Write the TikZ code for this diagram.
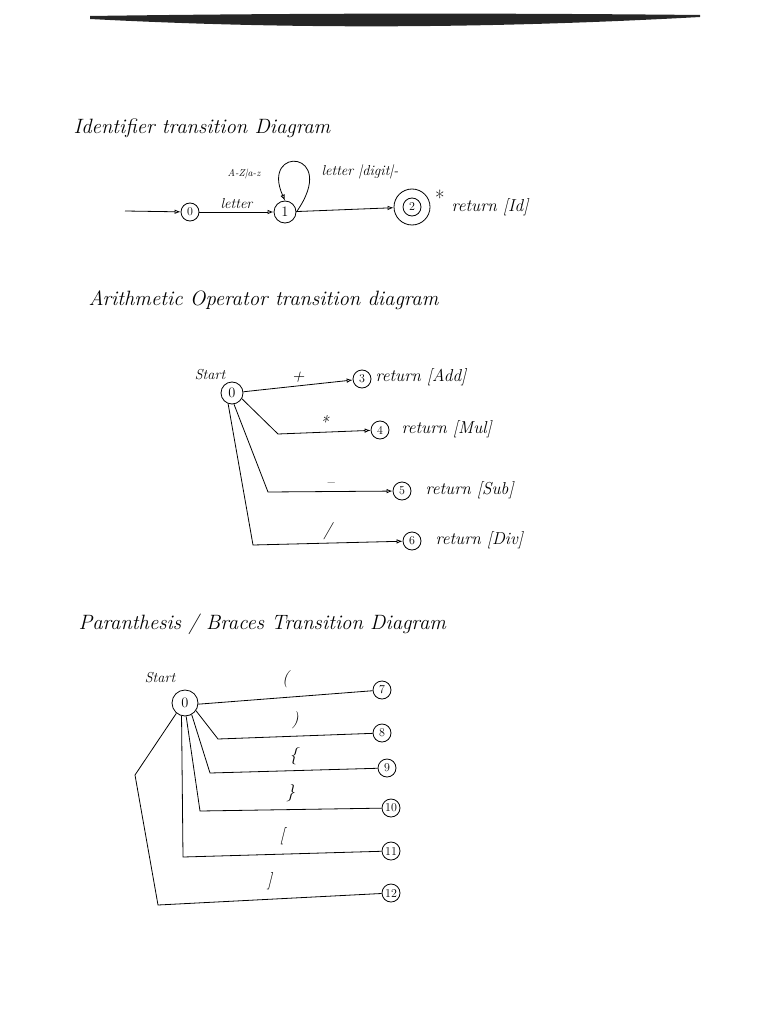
\documentclass[tikz,border=0pt]{standalone}
\usetikzlibrary{arrows.meta}
\begin{document}
\begin{tikzpicture}[x=1pt,y=-1pt,
  st/.style={circle,draw,thick,inner sep=0pt,minimum size=22pt,font=\Large},
  sst/.style={circle,draw,thick,inner sep=0pt,minimum size=18pt,font=\large},
  ar/.style={thick,-{Latex[open,length=6pt]}},
  ln/.style={thick},
  hw/.style={font=\huge\itshape},
  lb/.style={font=\LARGE\itshape}]
\useasboundingbox (0,0) rectangle (768,1024);
\fill[black!85] (90,16) .. controls (300,13) and (500,13) .. (700,15) -- (700,17) .. controls (500,28) and (300,30) .. (90,19) -- cycle;
% diagram 1
\node[hw,anchor=west] (t1) at (70,128) {Identifier transition Diagram};
\coordinate (s0) at (125,211);
\node[sst] (n0) at (190,212) {0};
\node[st] (n1) at (285,212) {1};
\node[circle,draw,thick,minimum size=36pt,inner sep=0pt] (n2o) at (412,207) {};
\node[sst] (n2) at (412,207) {2};
\draw[ar] (s0) -- (n0);
\draw[ar] (n0) -- node[above,font=\Large\itshape] {letter} (n1);
\draw[ar] (n1.east) .. controls (340,150) and (260,145) .. (n1.north);
\node[font=\normalsize\itshape] (l1a) at (244,174) {A-Z|a-z};
\node[font=\Large\itshape,anchor=west] (l1b) at (318,172) {letter |digit|-};
\draw[ar] (n1) -- (n2o);
\node[font=\huge] (star) at (440,198) {*};
\node[lb,anchor=west] (r1) at (448,207) {return [Id]};
% diagram 2
\node[hw,anchor=west] (t2) at (85,300) {Arithmetic Operator transition diagram};
\node[font=\Large\itshape] (start2) at (210,375) {Start};
\node[st] (m0) at (232,393) {0};
\node[sst] (m3) at (362,379) {3};
\node[sst] (m4) at (380,430) {4};
\node[sst] (m5) at (402,491) {5};
\node[sst] (m6) at (412,541) {6};
\draw[ar] (m0) -- node[above,lb] {+} (m3);
\draw[ar] (m0.-30) -- (278,434) -- node[above,lb] {*} (m4);
\draw[ar] (m0.-80) -- (268,492) -- node[above,lb] {--} (m5);
\draw[ar] (m0.-110) -- (253,545) -- node[above,lb] {/} (m6);
\node[lb,anchor=west] (r3) at (372,377) {return [Add]};
\node[lb,anchor=west] (r4) at (398,429) {return [Mul]};
\node[lb,anchor=west] (r5) at (422,490) {return [Sub]};
\node[lb,anchor=west] (r6) at (432,540) {return [Div]};
% diagram 3
\node[hw,anchor=west] (t3) at (75,624) {Paranthesis / Braces Transition Diagram};
\node[font=\Large\itshape] (start3) at (160,678) {Start};
\node[st,minimum size=26pt] (p0) at (185,703) {0};
\node[sst] (p7) at (382,690) {7};
\node[sst] (p8) at (382,733) {8};
\node[sst] (p9) at (387,768) {9};
\node[sst] (p10) at (391,808) {10};
\node[sst] (p11) at (391,851) {11};
\node[sst] (p12) at (391,893) {12};
\draw[ln] (p0.-5) -- node[above=6pt,lb] {(} (p7);
\draw[ln] (p0.-35) -- (218,739) -- node[above=4pt,lb] {)} (p8);
\draw[ln] (p0.-60) -- (210,773) -- node[above=2pt,lb] {\{} (p9);
\draw[ln] (p0.-85) -- (200,811) -- node[above=4pt,lb] {\}} (p10);
\draw[ln] (p0.-105) -- (183,857) -- node[above=6pt,lb] {[} (p11);
\draw[ln] (p0.-130) -- (135,775) -- (158,905) -- node[above=6pt,lb] {]} (p12);
\end{tikzpicture}
\end{document}
